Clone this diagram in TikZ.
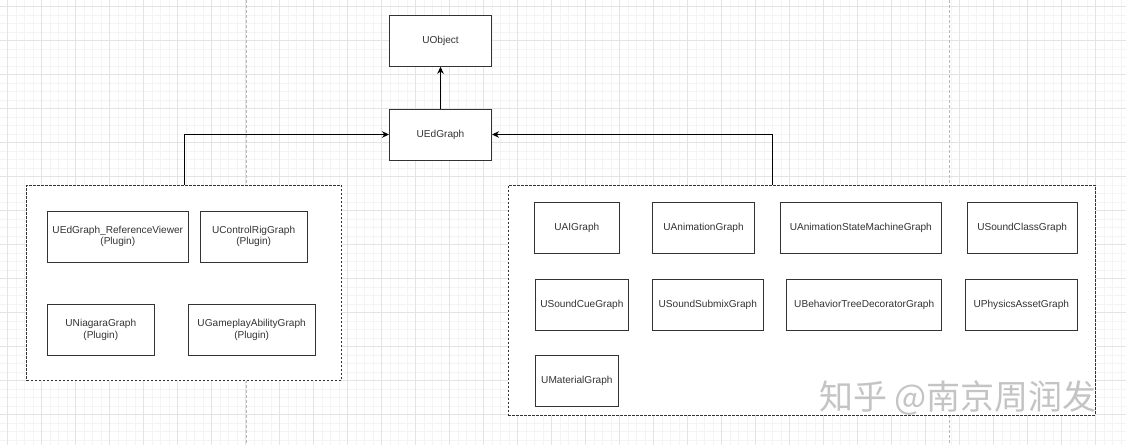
\documentclass[tikz,border=0pt]{standalone}
\usepackage{fontspec}
\setmainfont{Liberation Sans}
\newfontfamily\cjk{Noto Sans CJK SC}
\usetikzlibrary{arrows.meta}
\definecolor{boxline}{HTML}{333333}
\definecolor{txt}{HTML}{333333}
\definecolor{gridmajor}{HTML}{E4E4E4}
\definecolor{gridminor}{HTML}{F4F4F4}
\definecolor{pageline}{HTML}{B8B8B8}
\definecolor{wmark}{HTML}{C4C4C4}
\tikzset{
  cls/.style={draw=boxline, line width=1pt, fill=white, rectangle, inner sep=0pt,
    minimum height=51pt, text=txt, font=\fontsize{10.1}{11.5}\selectfont, align=center},
  group/.style={draw=boxline, line width=1pt, dash pattern=on 2.5pt off 1.5pt, fill=white, rectangle, inner sep=0pt},
  arr/.style={draw=black, line width=1pt, -{Stealth[length=7pt,width=6.5pt]}},
  gmaj/.style={draw=gridmajor, line width=0.6pt},
  gmin/.style={draw=gridminor, line width=0.5pt},
  pbreak/.style={draw=pageline, line width=0.7pt, dash pattern=on 3pt off 2pt}
}
\begin{document}
\begin{tikzpicture}[x=1pt,y=-1pt]
\useasboundingbox (0,0) rectangle (1126,445);
\fill[white] (0,0) rectangle (1126,445);
% grid
\foreach \i in {0,...,133} {\draw[gmin] ({-0.8+8.5*\i},0) -- ({-0.8+8.5*\i},445);}
\foreach \i in {0,...,53} {\draw[gmin] (0,{-1.8+8.5*\i}) -- (1126,{-1.8+8.5*\i});}
\foreach \i in {0,...,33} {\draw[gmaj] ({7.7+34*\i},0) -- ({7.7+34*\i},445);}
\foreach \i in {0,...,13} {\draw[gmaj] (0,{6.7+34*\i}) -- (1126,{6.7+34*\i});}
\draw[pbreak] (246,0) -- (246,445);
\draw[pbreak] (949,0) -- (949,445);

% top classes
\node[cls, minimum width=102pt] (uobject) at (440.5,40.8) {UObject};
\node[cls, minimum width=102pt] (edgraph) at (440.5,134.5) {UEdGraph};

% containers
\node[group, minimum width=314.6pt, minimum height=195.7pt] (leftbox) at (184,282.85) {};
\node[group, minimum width=586.7pt, minimum height=230pt] (rightbox) at (801.65,300) {};

% left group
\node[cls, minimum width=141pt] (refviewer) at (117.8,236.5) {UEdGraph\_ReferenceViewer\\(Plugin)};
\node[cls, minimum width=106.7pt] (controlrig) at (253.65,236.5) {UControlRigGraph\\(Plugin)};
\node[cls, minimum width=107pt] (niagara) at (100.8,329.8) {UNiagaraGraph\\(Plugin)};
\node[cls, minimum width=127.3pt] (gameplay) at (251.65,329.8) {UGameplayAbilityGraph\\(Plugin)};

% right group
\node[cls, minimum width=85pt] (aigraph) at (576.8,227.8) {UAIGraph};
\node[cls, minimum width=102.4pt] (animgraph) at (703.5,227.8) {UAnimationGraph};
\node[cls, minimum width=161.7pt] (animsm) at (860.85,227.8) {UAnimationStateMachineGraph};
\node[cls, minimum width=110.3pt] (soundclass) at (1022.15,227.8) {USoundClassGraph};
\node[cls, minimum width=93.7pt] (soundcue) at (581.85,304.5) {USoundCueGraph};
\node[cls, minimum width=111pt] (soundsubmix) at (707.8,304.5) {USoundSubmixGraph};
\node[cls, minimum width=155pt] (btdeco) at (864.2,304.5) {UBehaviorTreeDecoratorGraph};
\node[cls, minimum width=112pt] (physasset) at (1021.3,304.5) {UPhysicsAssetGraph};
\node[cls, minimum width=83.7pt] (material) at (576.85,381) {UMaterialGraph};

% connectors
\draw[arr] (edgraph.north) -- (uobject.south);
\draw[arr] (leftbox.north) |- (edgraph.west);
\coordinate (rjoin) at (772.3,185);
\draw[arr] (rjoin) |- (edgraph.east);

% watermark
\node[anchor=west, text=wmark, inner sep=0pt, font=\cjk\fontsize{34}{34}\selectfont] (wm) at (819,398) {知乎 @南京周润发};
\end{tikzpicture}
\end{document}
